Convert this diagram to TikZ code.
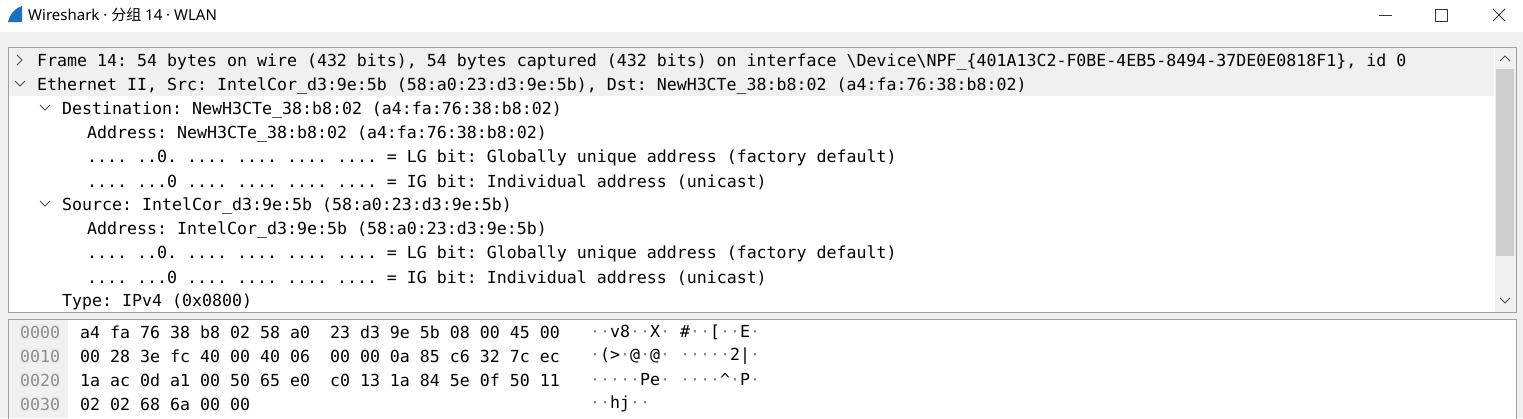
\documentclass[tikz,border=0pt]{standalone}
\usepackage{fontspec}
\setmonofont{DejaVu Sans Mono}
\setsansfont{Noto Sans}
\newfontfamily\cjk{Noto Sans CJK SC}
\definecolor{winbg}{HTML}{F0F0F0}
\definecolor{bord}{HTML}{A0A0A0}
\definecolor{thumb}{HTML}{CDCDCD}
\definecolor{offc}{HTML}{8C8C8C}
\definecolor{shark}{HTML}{1F6FC0}
\newcommand{\gd}{{\color{offc}·}}
\tikzset{
 row/.style={anchor=west,inner sep=0pt,yshift=-2pt,font=\ttfamily\fontsize{16.6}{20}\selectfont},
 off/.style={row,text=offc},
 chev/.style={draw=black!70,line width=1pt},
 ctl/.style={draw=black!80,line width=0.9pt}
}
\begin{document}
\begin{tikzpicture}[x=1pt,y=-1pt]
\useasboundingbox (0,0) rectangle (1523,418);
\fill[white] (0,0) rectangle (1523,32);
\fill[winbg] (0,32) rectangle (1523,418);
% title
\fill[shark] (8,22) .. controls (10,14) and (15,8) .. (22,6) -- (22,22) -- cycle;
\node[anchor=west,inner sep=0pt,font=\sffamily\fontsize{15}{18}\selectfont] (title) at (28,15) {Wireshark · {\cjk 分组} 14 · WLAN};
\draw[ctl] (1379,15) -- (1392,15);
\draw[ctl] (1435,9) rectangle (1447,21);
\draw[ctl] (1493,9) -- (1505,21) (1493,21) -- (1505,9);
% tree pane
\draw[bord,fill=white] (8.5,47.5) rectangle (1516.5,312.5);
\fill[winbg] (9,48) rectangle (1494,96);
\fill[winbg] (1495,48) rectangle (1516,312);
\fill[thumb] (1496,69) rectangle (1514,256);
\draw[chev] (1500,61) -- (1505,56) -- (1510,61);
\draw[chev] (1500,298) -- (1505,303) -- (1510,298);
% expanders
\draw[chev] (17,55) -- (22,60) -- (17,65);
\draw[chev] (15,81) -- (20,86) -- (25,81);
\draw[chev] (40,105) -- (45,110) -- (50,105);
\draw[chev] (40,201) -- (45,206) -- (50,201);
\node[row] (r1) at (37,60) {Frame 14: 54 bytes on wire (432 bits), 54 bytes captured (432 bits) on interface \textbackslash Device\textbackslash NPF\_\{401A13C2-F0BE-4EB5-8494-37DE0E0818F1\}, id 0};
\node[row] (r2) at (37,84) {Ethernet II, Src: IntelCor\_d3:9e:5b (58:a0:23:d3:9e:5b), Dst: NewH3CTe\_38:b8:02 (a4:fa:76:38:b8:02)};
\node[row] (r3) at (62,108) {Destination: NewH3CTe\_38:b8:02 (a4:fa:76:38:b8:02)};
\node[row] (r4) at (87,132) {Address: NewH3CTe\_38:b8:02 (a4:fa:76:38:b8:02)};
\node[row] (r5) at (87,156) {.... ..0. .... .... .... .... = LG bit: Globally unique address (factory default)};
\node[row] (r6) at (87,180) {.... ...0 .... .... .... .... = IG bit: Individual address (unicast)};
\node[row] (r7) at (62,204) {Source: IntelCor\_d3:9e:5b (58:a0:23:d3:9e:5b)};
\node[row] (r8) at (87,228) {Address: IntelCor\_d3:9e:5b (58:a0:23:d3:9e:5b)};
\node[row] (r9) at (87,252) {.... ..0. .... .... .... .... = LG bit: Globally unique address (factory default)};
\node[row] (r10) at (87,276) {.... ...0 .... .... .... .... = IG bit: Individual address (unicast)};
\node[row] (r11) at (62,300) {Type: IPv4 (0x0800)};
% hex pane
\draw[bord,fill=white] (8.5,319.5) rectangle (1516.5,420);
\fill[winbg] (9,320) rectangle (68,418);
\node[off] (o0) at (20,330) {0000};
\node[off] (o1) at (20,354) {0010};
\node[off] (o2) at (20,378) {0020};
\node[off] (o3) at (20,402) {0030};
\node[row] (h0) at (80,330) {a4 fa 76 38 b8 02 58 a0\ \ 23 d3 9e 5b 08 00 45 00};
\node[row] (h1) at (80,354) {00 28 3e fc 40 00 40 06\ \ 00 00 0a 85 c6 32 7c ec};
\node[row] (h2) at (80,378) {1a ac 0d a1 00 50 65 e0\ \ c0 13 1a 84 5e 0f 50 11};
\node[row] (h3) at (80,402) {02 02 68 6a 00 00};
\node[row] (a0) at (590,330) {\gd\gd v8\gd\gd X\gd\ \#\gd\gd[\gd\gd E\gd};
\node[row] (a1) at (590,354) {\gd(>\gd@\gd@\gd\ \gd\gd\gd\gd\gd 2|\gd};
\node[row] (a2) at (590,378) {\gd\gd\gd\gd\gd Pe\gd\ \gd\gd\gd\gd\textasciicircum\gd P\gd};
\node[row] (a3) at (590,402) {\gd\gd hj\gd\gd};
\end{tikzpicture}
\end{document}
